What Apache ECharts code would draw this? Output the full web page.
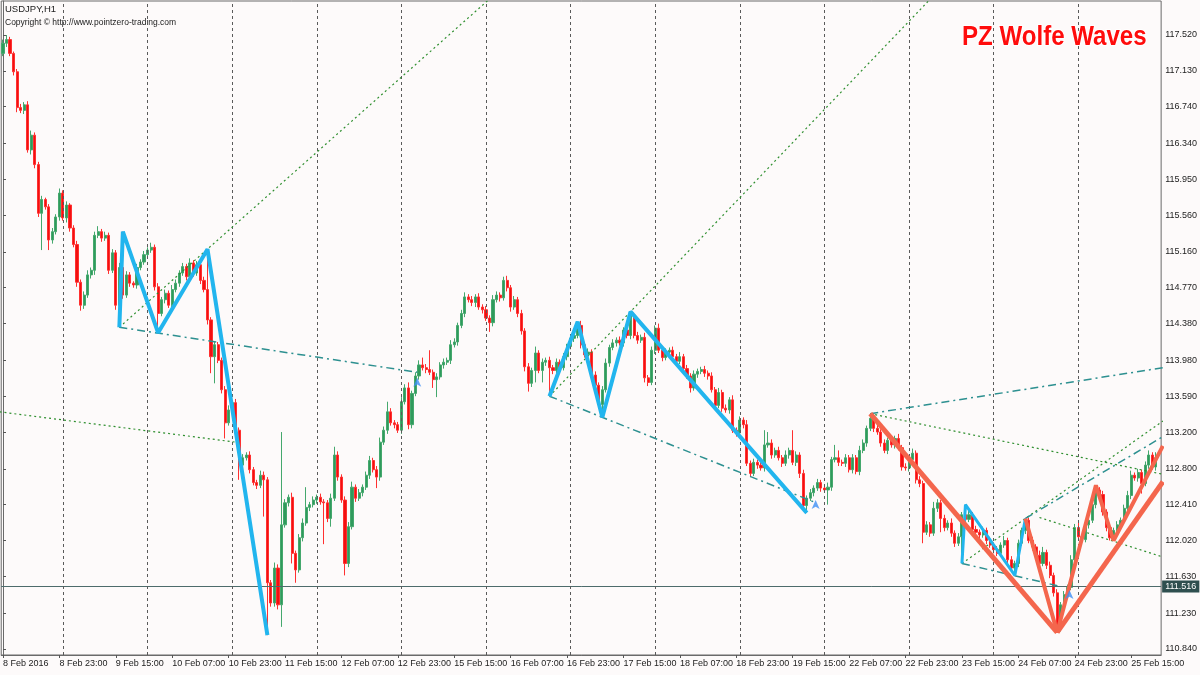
<!DOCTYPE html>
<html>
<head>
<meta charset="utf-8">
<script src="https://cdn.jsdelivr.net/npm/echarts@6/dist/echarts.min.js"></script>
<style>
  html, body { margin: 0; padding: 0; background: #fdfafa; }
  #main { width: 1200px; height: 675px; }
</style>
</head>
<body>
<div id="main"></div>
<script>
// USDJPY H1, first bar 8 Feb 2016 07:00
const days = ['8 Feb', '9 Feb', '10 Feb', '11 Feb', '12 Feb', '15 Feb', '16 Feb', '17 Feb',
  '18 Feb', '19 Feb', '22 Feb', '23 Feb', '24 Feb', '25 Feb'];
const firstHour = 7;
const firstOpen = 117.32;

// closes, one per hour (open = previous close)
const closes = [
  117.43, 117.47, 117.32, 117.12, 116.73, 116.70, 116.76, 116.27, 116.43, 116.11,
  115.58, 115.73, 115.65, 115.29, 115.38, 115.54, 115.80, 115.53, 115.67, 115.42,
  115.24, 114.83, 114.58, 114.69, 114.91, 114.96, 115.34, 115.38, 115.31, 115.34,
  114.96, 115.15, 114.58, 114.99, 114.69, 114.91, 114.82, 114.80, 114.99, 115.05,
  115.13, 115.18, 115.21, 114.78, 114.49, 114.64, 114.71, 114.58, 114.75, 114.82,
  114.93, 115.00, 114.89, 115.04, 114.93, 115.02, 114.85, 114.75, 114.42, 114.02,
  114.15, 113.98, 113.66, 113.30, 113.44, 113.52, 113.22, 112.84, 112.92, 112.95,
  112.79, 112.65, 112.62, 112.73, 112.68, 111.56, 111.34, 111.72, 111.32, 112.19,
  112.43, 112.49, 111.88, 111.70, 112.05, 112.21, 112.38, 112.41, 112.46, 112.49,
  112.44, 112.43, 112.26, 112.48, 112.95, 112.71, 112.46, 111.77, 112.17, 112.60,
  112.48, 112.54, 112.60, 112.73, 112.89, 112.79, 112.71, 113.09, 113.22, 113.42,
  113.30, 113.28, 113.22, 113.53, 113.68, 113.28, 113.62, 113.81, 113.93, 113.90,
  113.88, 113.85, 113.77, 113.80, 113.93, 113.96, 113.98, 114.15, 114.18, 114.36,
  114.49, 114.67, 114.64, 114.61, 114.67, 114.56, 114.53, 114.44, 114.39, 114.64,
  114.69, 114.66, 114.85, 114.77, 114.56, 114.64, 114.49, 114.30, 113.91, 113.73,
  113.87, 114.06, 113.87, 113.96, 113.98, 113.90, 113.87, 113.96, 113.90, 114.02,
  114.13, 114.22, 114.25, 114.36, 114.15, 114.04, 114.07, 113.82, 113.71, 113.50,
  113.66, 113.95, 114.12, 114.17, 114.20, 114.17, 114.31, 114.25, 114.47, 114.25,
  114.20, 114.23, 113.79, 113.74, 114.09, 114.33, 114.09, 114.01, 114.07, 114.09,
  114.02, 113.97, 114.02, 113.89, 113.81, 113.68, 113.83, 113.86, 113.88, 113.84,
  113.81, 113.66, 113.49, 113.63, 113.46, 113.44, 113.55, 113.22, 113.19, 113.33,
  113.28, 112.86, 112.75, 112.87, 112.84, 112.81, 113.06, 113.08, 112.95, 113.00,
  112.92, 112.86, 112.95, 113.00, 112.87, 112.95, 112.75, 112.40, 112.48, 112.54,
  112.59, 112.65, 112.59, 112.57, 112.60, 112.90, 112.92, 112.87, 112.86, 112.92,
  112.79, 112.92, 112.77, 113.00, 113.08, 113.24, 113.35, 113.24, 113.20, 113.08,
  113.00, 113.11, 113.06, 113.13, 113.03, 112.82, 112.81, 112.90, 112.97, 112.68,
  112.64, 112.11, 112.19, 112.10, 112.37, 112.43, 112.26, 112.16, 112.21, 112.10,
  111.99, 112.06, 112.30, 112.25, 112.30, 112.14, 112.11, 112.08, 112.13, 112.02,
  111.97, 111.92, 111.88, 111.97, 112.02, 111.81, 111.72, 111.77, 111.99, 112.13,
  112.24, 112.02, 111.95, 111.86, 111.77, 111.89, 111.75, 111.64, 111.45, 111.07,
  111.32, 111.43, 111.51, 111.81, 112.16, 112.06, 112.03, 112.19, 112.24, 112.41,
  112.57, 112.52, 112.33, 112.16, 112.05, 112.13, 112.19, 112.24, 112.37, 112.51,
  112.73, 112.70, 112.76, 112.64, 112.84, 112.95, 112.82, 112.92
];
// wick lengths in hundredths of a yen (above / below the body)
const upWick = [
  4,5,3,2,3,4,3,4,5,3, 3,4,2,3,4,3,5,3,4,2, 3,4,3,4,5,3,4,6,3,4, 3,4,3,5,39,4,3,2,4,3,
  4,3,5,3,4,3,4,3,5,4, 3,4,3,5,3,4,3,4,44,3, 4,3,3,4,5,3,4,3,4,3, 4,3,3,5,4,3,3,6,4,101,
  4,3,5,3,4,5,22,3,4,3, 4,3,3,5,9,4,3,4,5,6, 3,4,3,4,5,3,4,5,4,11, 4,3,3,5,4,6,3,4,5,8,
  4,21,3,4,3,4,3,5,4,3, 4,5,3,4,3,4,3,4,3,5, 4,3,4,5,3,4,3,4,3,4, 3,7,3,4,3,4,3,4,3,4,
  3,4,3,4,5,3,4,3,4,3, 4,5,3,4,3,4,3,5,4,3, 4,3,5,3,4,3,5,3,4,3, 4,3,5,3,4,3,4,3,3,4,
  3,4,3,5,3,4,3,5,3,4, 3,5,3,4,3,4,16,12,4,3, 4,3,5,3,22,4,3,4,3,4, 3,4,3,4,5,3,14,8,3,4,
  3,4,3,5,4,3,5,3,4,3, 4,3,4,3,5,3,4,3,5,3, 4,3,4,3,7,4,3,4,3,5, 3,4,3,11,4,3,4,3,4,3,
  4,3,4,3,5,3,4,3,4,3, 2,3,4,3,5,6,3,4,3,4, 3,4,3,5,4,6,3,4,3,4, 5,3,4,3,4,3,4,3,4,5,
  5,3,4,3,4,5,3,6
];
const lowWick = [
  3,4,3,4,5,3,4,3,5,4, 4,40,3,11,4,3,4,3,5,4, 3,5,6,4,3,4,5,3,4,3, 4,3,5,24,4,3,4,3,4,3,
  3,4,3,4,21,3,4,3,4,3, 4,3,4,3,4,3,4,3,5,18, 29,3,4,17,3,4,5,16,4,3, 4,3,4,3,40,57,4,4,5,24,
  3,4,11,14,3,4,3,4,3,4, 3,45,4,9,3,4,3,13,4,3, 4,3,4,3,4,3,12,4,3,4, 3,4,3,4,3,5,4,3,4,3,
  4,3,9,19,3,4,3,4,3,4, 3,4,3,4,5,3,4,3,10,4, 3,4,3,4,5,3,4,4,5,9, 4,13,3,13,4,31,4,3,4,3,
  4,3,4,3,4,3,4,3,4,5, 14,3,4,3,4,3,4,3,4,3, 4,3,5,4,3,4,3,4,3,4, 3,4,3,4,3,5,3,4,3,4,
  4,3,5,3,4,3,4,3,4,3, 4,3,4,3,4,3,4,3,4,3, 3,4,3,4,3,4,5,4,8,3, 4,3,4,3,16,4,3,4,3,4,
  3,4,3,4,3,4,3,4,3,4, 3,4,3,4,3,4,3,4,3,4, 4,12,3,4,3,4,15,4,3,4, 4,3,29,4,3,4,3,4,3,4,
  3,4,3,4,3,4,3,8,4,3, 4,3,4,3,4,3,4,3,4,5, 4,3,4,3,4,3,6,3,4,3, 4,3,4,4,3,3,4,3,4,3,
  4,3,4,11,3,4,3,4
];

const priceTicks = [110.84, 111.23, 111.63, 112.02, 112.41, 112.80, 113.20, 113.59, 113.98,
  114.38, 114.77, 115.16, 115.56, 115.95, 116.34, 116.74, 117.13, 117.52];
const bidPrice = 111.516;

// wolfe wave points: [bar index, price]
const blueWave1 = [[33, 114.34], [34, 115.38], [44, 114.28], [58, 115.19], [75, 110.99]];
const blueWave2 = [[155, 113.59], [163, 114.40], [170, 113.36], [178, 114.51], [228, 112.32]];
const blueWave3 = [[272, 111.77], [273, 112.41], [287, 111.64], [290, 112.26]];
const redWave1 = [[246, 113.40], [299, 111.02]];
const redWave2 = [[290, 112.26], [299, 111.02], [310, 112.62], [315, 112.02], [329, 113.05]];
const redTarget = [[299, 111.02], [329, 112.66]];
const greenLines = [
  [[33, 114.34], [150, 118.32]],
  [[-1, 113.42], [66, 113.09]],
  [[155, 113.59], [270, 118.19]],
  [[246, 113.40], [329, 112.74]],
  [[272, 111.77], [329, 113.32]],
  [[294, 112.27], [329, 111.84]]
];
const tealLines = [
  [[33, 114.34], [117.5, 113.85]],
  [[155, 113.59], [230, 112.44]],
  [[246, 113.40], [329, 113.90]],
  [[272, 111.77], [300, 111.52]],
  [[290, 112.26], [329, 113.15]]
];
const arrows = [[117.5, 113.79], [230.5, 112.46], [302.5, 111.48]];

// categories: one per hour, plus one empty slot (chart shift)
const categories = [];
days.forEach(function (d, k) {
  for (let h = k === 0 ? firstHour : 0; h < 24; h++) {
    categories.push(d + ' ' + (h < 10 ? '0' + h : h) + ':00');
  }
});
const n = categories.length;
const dayStarts = [];
categories.forEach(function (c, i) { if (i > 0 && c.slice(-5) === '00:00') dayStarts.push(i); });

const candles = closes.map(function (c, i) {
  const o = i === 0 ? firstOpen : closes[i - 1];
  const top = Math.max(o, c), bot = Math.min(o, c);
  return [o, c, +(bot - lowWick[i] / 100).toFixed(3), +(top + upWick[i] / 100).toFixed(3)];
});

function seg(pts, color, width, type) {
  return {
    type: 'line', xAxisIndex: 1, data: pts, symbol: 'none', silent: true,
    clip: true, animation: false, lineStyle: { color: color, width: width, type: type }, z: 5
  };
}

const series = [{
  type: 'candlestick',
  data: candles,
  barWidth: 2.6,
  itemStyle: {
    color: '#2f9a5c', color0: '#f21010',
    borderColor: '#45a86d', borderColor0: '#ff3030', borderWidth: 1
  },
  markLine: {
    silent: true, symbol: 'none', animation: false,
    lineStyle: { color: '#4d6b6b', width: 1, type: 'solid' },
    label: {
      position: 'end', distance: 1, formatter: bidPrice.toFixed(3),
      color: '#fff', backgroundColor: '#2f4f4f', padding: [2, 3, 1, 3],
      fontSize: 9, fontFamily: 'Liberation Sans'
    },
    data: [{ yAxis: bidPrice }]
  },
  z: 2
}];

// daily separators
series.push({
  type: 'line', xAxisIndex: 1, data: [], silent: true,
  markLine: {
    silent: true, symbol: 'none', animation: false, label: { show: false },
    lineStyle: { color: '#5a5a5a', width: 1, type: [3, 3] },
    data: dayStarts.map(function (d) { return { xAxis: d }; })
  },
  z: 1
});

greenLines.forEach(function (l) { series.push(seg(l, '#2f8f2f', 1.2, [2, 3])); });
tealLines.forEach(function (l) { series.push(seg(l, '#2d9090', 1.5, [8, 4, 2, 4])); });
series.push(seg(blueWave1, '#22b5ee', 4, 'solid'));
series.push(seg(blueWave2, '#22b5ee', 4, 'solid'));
series.push(seg(blueWave3, '#22b5ee', 3, 'solid'));
series.push(seg(redWave1, '#f4664d', 5, 'solid'));
series.push(seg(redWave2, '#f4664d', 4, 'solid'));
series.push(seg(redTarget, '#f4664d', 5, 'solid'));
series.push({
  type: 'scatter', xAxisIndex: 1, data: arrows, symbol: 'arrow', symbolSize: [6, 9],
  itemStyle: { color: '#3d8ef5' }, silent: true, z: 6
});

const chart = echarts.init(document.getElementById('main'));
chart.setOption({
  animation: false,
  backgroundColor: '#fdfafa',
  grid: { left: 1, right: 37, top: 1, bottom: 20, show: true, borderColor: '#6a6a6a', borderWidth: 1 },
  xAxis: [{
    type: 'category',
    data: categories,
    boundaryGap: true,
    axisLine: { show: true, lineStyle: { color: '#6a6a6a' } },
    axisTick: {
      show: true, alignWithLabel: true, inside: false, length: 3,
      interval: function (i) { return i % 16 === 0; },
      lineStyle: { color: '#555' }
    },
    axisLabel: {
      interval: function (i) { return i % 16 === 0; },
      align: 'left', margin: 4, color: '#222', fontSize: 9, fontFamily: 'Liberation Sans',
      formatter: function (v, i) { return i === 0 ? '8 Feb 2016' : v; }
    },
    splitLine: { show: false }
  }, {
    type: 'value', min: -0.5, max: n - 0.5, show: false
  }],
  yAxis: {
    type: 'value', position: 'right', min: 110.774, max: 117.89,
    axisLine: { show: true, lineStyle: { color: '#6a6a6a' } },
    axisTick: { show: true, length: 3, customValues: priceTicks, lineStyle: { color: '#555' } },
    axisLabel: {
      customValues: priceTicks, color: '#222', fontSize: 9, fontFamily: 'Liberation Sans', margin: 4,
      formatter: function (v) { return v.toFixed(3); }
    },
    splitLine: { show: false }
  },
  graphic: [
    { type: 'text', left: 5, top: 4, style: { text: 'USDJPY,H1', fill: '#222', fontSize: 9.5, fontFamily: 'Liberation Sans' } },
    { type: 'text', left: 5, top: 18, style: { text: 'Copyright \u00a9 http://www.pointzero-trading.com', fill: '#222', fontSize: 8.5, fontFamily: 'Liberation Sans' } },
    {
      type: 'text', x: 962, y: 23, scaleX: 0.86, z: 100,
      style: {
        text: 'PZ Wolfe Waves', fill: '#ff0c0c', fontSize: 28, fontWeight: 'bold',
        fontFamily: 'Liberation Sans', stroke: '#ffffff', lineWidth: 2,
        shadowColor: 'rgba(0,0,0,0.35)', shadowBlur: 3, shadowOffsetX: 2, shadowOffsetY: 2
      }
    }
  ],
  series: series
});
</script>
</body>
</html>
